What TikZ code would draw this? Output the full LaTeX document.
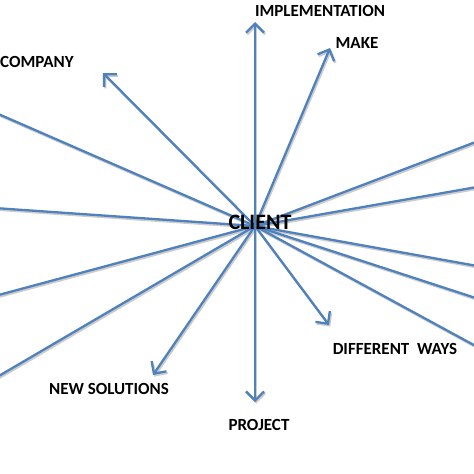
\documentclass[tikz,border=0pt]{standalone}
\usepackage{fontspec}
\setmainfont{Carlito}
\usetikzlibrary{arrows.meta}
\definecolor{spoke}{HTML}{4F81BD}

\begin{document}
\begin{tikzpicture}[x=1pt, y=-1pt,
    spokeLine/.style={line width=2.3pt, draw=spoke, preaction={draw=black!20, line width=2.3pt, transform canvas={xshift=1.2pt, yshift=-1.6pt}}},
    spokeArrow/.style={spokeLine, -{Straight Barb[length=9pt, width=18pt]}},
    termText/.style={font=\bfseries\fontsize{17}{19}\selectfont, inner sep=0pt}
]
    \clip (0,0) rectangle (474,474);

    \coordinate (hub) at (255,226);

    % arrow tips
    \coordinate (tImpl) at (255,22);
    \coordinate (tMake) at (330,48);
    \coordinate (tComp) at (103,73);
    \coordinate (tSol) at (153,375);
    \coordinate (tProj) at (255,402);
    \coordinate (tWays) at (329,325);

    % loose ends past the border
    \coordinate (l1) at (-20,106);
    \coordinate (l2) at (-20,207);
    \coordinate (l3) at (-20,300);
    \coordinate (l4) at (-20,387);
    \coordinate (r1) at (494,135);
    \coordinate (r2) at (494,184);
    \coordinate (r3) at (494,269);
    \coordinate (r4) at (494,304);
    \coordinate (r5) at (494,356);

    \foreach \e in {l1,l2,l3,l4,r1,r2,r3,r4,r5}
        \draw[spokeLine] (hub) -- (\e);
    \foreach \e in {tImpl,tMake,tComp,tSol,tProj,tWays}
        \draw[spokeArrow] (hub) -- (\e);

    \node[termText, font=\bfseries\fontsize{22}{24}\selectfont] (client) at (260,222) {CLIENT};
    \node[termText] (impl) at (320,11) {IMPLEMENTATION};
    \node[termText] (make) at (357,43) {MAKE};
    \node[termText, anchor=west] (comp) at (0,62) {COMPANY};
    \node[termText] (sol) at (109,389) {NEW SOLUTIONS};
    \node[termText] (proj) at (259,425) {PROJECT};
    \node[termText] (ways) at (395,349) {DIFFERENT\ \ WAYS};
\end{tikzpicture}
\end{document}
